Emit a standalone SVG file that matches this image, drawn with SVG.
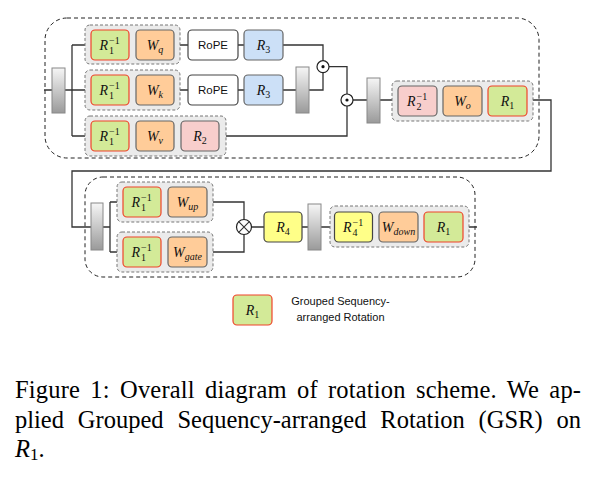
<svg xmlns="http://www.w3.org/2000/svg" width="595" height="477" viewBox="0 0 595 477">
<defs>
<linearGradient id="bar" x1="0" y1="0" x2="0" y2="1">
<stop offset="0" stop-color="#f6f6f6"/>
<stop offset="1" stop-color="#9a9a9a"/>
</linearGradient>
<style>
.outer{fill:none;stroke:#222;stroke-width:1;stroke-dasharray:4 3}
.grp{fill:#ebebeb;stroke:#777;stroke-width:1;stroke-dasharray:3 2}
.bar{fill:url(#bar);stroke:#888;stroke-width:1}
.gr{fill:#d3ea98;stroke:#f0432a;stroke-width:1.2}
.or{fill:#ffcc99;stroke:#666;stroke-width:1.2}
.bl{fill:#cce0f7;stroke:#666;stroke-width:1.2}
.pk{fill:#f8cecc;stroke:#666;stroke-width:1.2}
.ye{fill:#ffff88;stroke:#444;stroke-width:1.2}
.wh{fill:#fff;stroke:#444;stroke-width:1.2}
.ln{fill:none;stroke:#333;stroke-width:1.3}
.op{fill:#fff;stroke:#222;stroke-width:1.2}
.m{font-family:"Liberation Serif",serif;font-style:italic;font-size:14px;fill:#111}
.sm{font-family:"Liberation Serif",serif;font-size:10px;font-style:normal;fill:#111}
.si{font-family:"Liberation Serif",serif;font-size:10px;font-style:italic;fill:#111}
.sans{font-family:"Liberation Sans",Arial,sans-serif;fill:#111}
.cap{font-family:"Liberation Serif","Times New Roman",serif;font-size:24.5px;fill:#000}
</style>
</defs>
<rect width="595" height="477" fill="#fff"/>

<g id="outer-boxes">
<rect class="outer" x="45" y="18" width="494" height="140" rx="22"/>
<rect class="outer" x="85" y="177" width="390" height="100" rx="18"/>
</g>

<g id="connectors">
<path class="ln" d="M44 90 H52 M65 90 H72 M72 45 V136 M72 45 H85 M72 90 H85 M72 136 H85"/>
<path class="ln" d="M180 45 H188 M238 45 H244 M283 45 H323 V60.7"/>
<path class="ln" d="M180 90 H188 M238 90 H244 M283 90 H296 M309 90 H323 V72.7"/>
<path class="ln" d="M226 136 H347 V106"/>
<path class="ln" d="M329 66.7 H347 V94"/>
<path class="ln" d="M353 100 H367 M380 100 H392 M533 100 H551 V171 H72 V227 H91"/>
<path class="ln" d="M103 227 H110 M110 202 V252 M110 202 H117 M110 252 H117"/>
<path class="ln" d="M213 202 H244 V219.5 M213 252 H244 V234.5"/>
<path class="ln" d="M251.5 227 H264 M302 227 H308 M321 227 H330 M469 227 H477"/>
</g>

<g id="norm-bars">
<rect class="bar" x="52" y="68" width="13" height="45"/>
<rect class="bar" x="296" y="67" width="13" height="46"/>
<rect class="bar" x="367" y="78" width="13" height="45"/>
<rect class="bar" x="91" y="203" width="12" height="47"/>
<rect class="bar" x="308" y="204" width="13" height="46"/>
</g>

<g id="ops">
<circle class="op" cx="323" cy="66.7" r="6"/><circle cx="323" cy="66.7" r="1.6" fill="#111"/>
<circle class="op" cx="347" cy="100" r="6"/><circle cx="347" cy="100" r="1.6" fill="#111"/>
<circle class="op" cx="244" cy="227" r="7.5"/>
<path class="ln" d="M238.7 221.7 L249.3 232.3 M249.3 221.7 L238.7 232.3" style="stroke-width:1.1"/>
</g>

<g id="q-row">
<rect class="grp" x="85" y="25" width="95" height="39" rx="5"/>
<rect class="gr" x="91" y="30" width="38" height="30" rx="4"/>
<text class="m" x="99.5" y="50">R</text><text class="sm" x="109" y="44">−1</text><text class="sm" x="109" y="54">1</text>
<rect class="or" x="136" y="30" width="38" height="30" rx="4"/>
<text class="m" x="155" y="50" text-anchor="middle">W<tspan class="si" dy="3">q</tspan></text>
<rect class="wh" x="188" y="30" width="50" height="30" rx="4"/>
<text class="sans" x="213" y="49" text-anchor="middle" font-size="11.5">RoPE</text>
<rect class="bl" x="244" y="30" width="39" height="30" rx="4"/>
<text class="m" x="263.5" y="50" text-anchor="middle">R<tspan class="sm" dy="3">3</tspan></text>
</g>

<g id="k-row">
<rect class="grp" x="85" y="70" width="95" height="40" rx="5"/>
<rect class="gr" x="91" y="75" width="38" height="30" rx="4"/>
<text class="m" x="99.5" y="95">R</text><text class="sm" x="109" y="89">−1</text><text class="sm" x="109" y="99">1</text>
<rect class="or" x="136" y="75" width="38" height="30" rx="4"/>
<text class="m" x="155" y="95" text-anchor="middle">W<tspan class="si" dy="3">k</tspan></text>
<rect class="wh" x="188" y="75" width="50" height="30" rx="4"/>
<text class="sans" x="213" y="94" text-anchor="middle" font-size="11.5">RoPE</text>
<rect class="bl" x="244" y="75" width="39" height="30" rx="4"/>
<text class="m" x="263.5" y="95" text-anchor="middle">R<tspan class="sm" dy="3">3</tspan></text>
</g>

<g id="v-row">
<rect class="grp" x="85" y="116" width="141" height="40" rx="5"/>
<rect class="gr" x="91" y="121" width="38" height="30" rx="4"/>
<text class="m" x="99.5" y="141">R</text><text class="sm" x="109" y="135">−1</text><text class="sm" x="109" y="145">1</text>
<rect class="or" x="136" y="121" width="38" height="30" rx="4"/>
<text class="m" x="155" y="141" text-anchor="middle">W<tspan class="si" dy="3">v</tspan></text>
<rect class="pk" x="181" y="121" width="38" height="30" rx="4"/>
<text class="m" x="200" y="141" text-anchor="middle">R<tspan class="sm" dy="3">2</tspan></text>
</g>

<g id="o-proj">
<rect class="grp" x="392" y="81" width="141" height="40" rx="5"/>
<rect class="pk" x="398" y="86" width="39" height="30" rx="4"/>
<text class="m" x="407" y="106">R</text><text class="sm" x="416.5" y="100">−1</text><text class="sm" x="416.5" y="110">2</text>
<rect class="or" x="443" y="86" width="39" height="30" rx="4"/>
<text class="m" x="462.5" y="106" text-anchor="middle">W<tspan class="si" dy="3">o</tspan></text>
<rect class="gr" x="488" y="86" width="39" height="30" rx="4"/>
<text class="m" x="507.5" y="106" text-anchor="middle">R<tspan class="sm" dy="3">1</tspan></text>
</g>

<g id="up-row">
<rect class="grp" x="117" y="182" width="96" height="40" rx="5"/>
<rect class="gr" x="123" y="187" width="38" height="30" rx="4"/>
<text class="m" x="131.5" y="207">R</text><text class="sm" x="141" y="201">−1</text><text class="sm" x="141" y="211">1</text>
<rect class="or" x="168" y="187" width="39" height="30" rx="4"/>
<text class="m" x="187.5" y="207" text-anchor="middle">W<tspan class="si" dy="3">up</tspan></text>
</g>

<g id="gate-row">
<rect class="grp" x="117" y="232" width="96" height="40" rx="5"/>
<rect class="gr" x="123" y="237" width="38" height="30" rx="4"/>
<text class="m" x="131.5" y="257">R</text><text class="sm" x="141" y="251">−1</text><text class="sm" x="141" y="261">1</text>
<rect class="or" x="168" y="237" width="39" height="30" rx="4"/>
<text class="m" x="187.5" y="257" text-anchor="middle">W<tspan class="si" dy="3">gate</tspan></text>
</g>

<g id="r4">
<rect class="ye" x="264" y="212" width="38" height="30" rx="4"/>
<text class="m" x="283" y="232" text-anchor="middle">R<tspan class="sm" dy="3">4</tspan></text>
</g>

<g id="down-proj">
<rect class="grp" x="330" y="206" width="139" height="41" rx="5"/>
<rect class="ye" x="334.5" y="212" width="38" height="30" rx="4"/>
<text class="m" x="343" y="232">R</text><text class="sm" x="352.5" y="226">−1</text><text class="sm" x="352.5" y="236">4</text>
<rect class="or" x="379" y="212" width="39" height="30" rx="4"/>
<text class="m" x="398.5" y="232" text-anchor="middle">W<tspan class="si" dy="3">down</tspan></text>
<rect class="gr" x="424" y="212" width="39" height="30" rx="4"/>
<text class="m" x="443.5" y="232" text-anchor="middle">R<tspan class="sm" dy="3">1</tspan></text>
</g>

<g id="legend">
<rect class="gr" x="233" y="295" width="39" height="30" rx="4"/>
<text class="m" x="252.5" y="315" text-anchor="middle">R<tspan class="sm" dy="3">1</tspan></text>
<text class="sans" x="340.5" y="305" text-anchor="middle" font-size="11">Grouped Sequency-</text>
<text class="sans" x="340.5" y="321" text-anchor="middle" font-size="11">arranged Rotation</text>
</g>

<g id="caption">
<text class="cap" x="15" y="398" word-spacing="3.9" textLength="566" lengthAdjust="spacing">Figure 1: Overall diagram of rotation scheme. We ap-</text>
<text class="cap" x="15" y="428" word-spacing="7.8" textLength="566" lengthAdjust="spacing">plied Grouped Sequency-arranged Rotation (GSR) on</text>
<text class="cap" x="15" y="457"><tspan font-style="italic">R</tspan><tspan font-size="17" dy="3">1</tspan><tspan dy="-3">.</tspan></text>
</g>
</svg>
